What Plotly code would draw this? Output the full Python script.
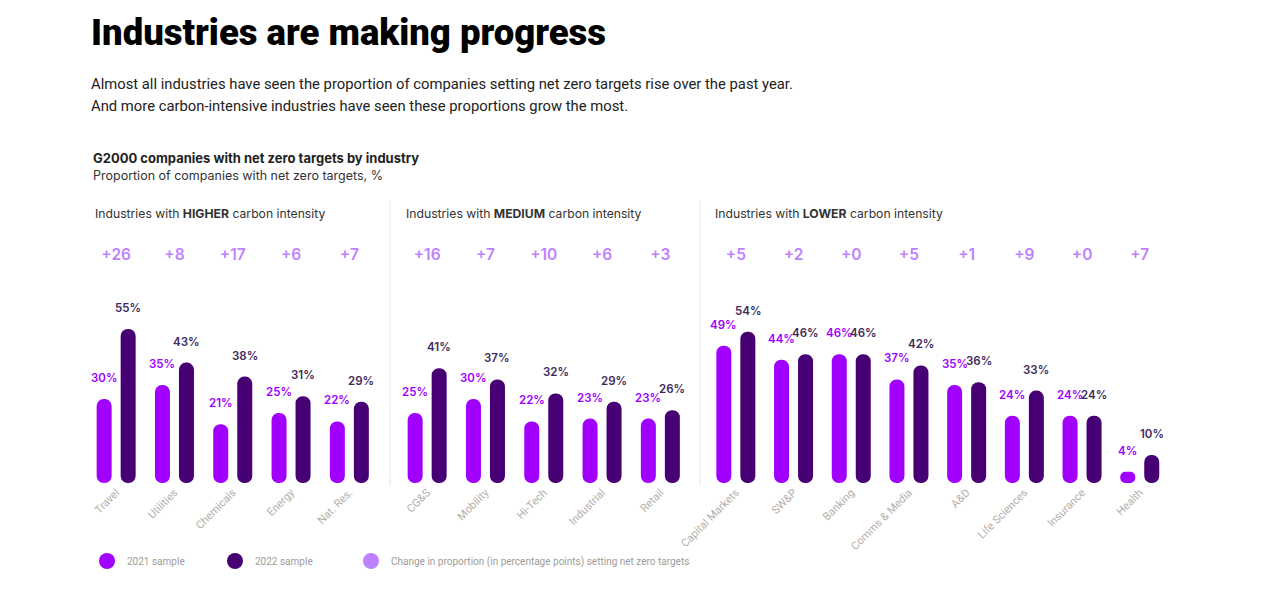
import numpy as np
import plotly.graph_objects as go

# === Data ===
higher_cats = ["Travel", "Utilities", "Chemicals", "Energy", "Nat. Res."]
higher_2021 = [30, 35, 21, 25, 22]
higher_2022 = [55, 43, 38, 31, 29]
higher_change = [26, 8, 17, 6, 7]

medium_cats = ["CG&S", "Mobility", "Hi-Tech", "Industrial", "Retail"]
medium_2021 = [25, 30, 22, 23, 23]
medium_2022 = [41, 37, 32, 29, 26]
medium_change = [16, 7, 10, 6, 3]

lower_cats = ["Capital Markets", "SW&P", "Banking", "Comms & Media", "A&D",
              "Life Sciences", "Insurance", "Health"]
lower_2021 = [49, 44, 46, 37, 35, 24, 24, 4]
lower_2022 = [54, 46, 46, 42, 36, 33, 24, 10]
lower_change = [5, 2, 0, 5, 1, 9, 0, 7]

panel_titles = [
    "Industries with <b>HIGHER</b> carbon intensity",
    "Industries with <b>MEDIUM</b> carbon intensity",
    "Industries with <b>LOWER</b> carbon intensity",
]
legend_names = ["2021 sample", "2022 sample",
                "Change in proportion (in percentage points) setting net zero targets"]

# === Styling ===
C21 = "#a100ff"
C22 = "#460073"
CCHG = "#be82ff"
LBL22 = "#3d2b5c"
TICK = "#b3aea8"

OFF = 8                          # page body margin
W, H = 1280 - 2 * OFF, 599 - 2 * OFF
TOP, BASE = 245 - OFF, 483 - OFF   # plot area top / zero line, figure pixels
YMAX = 85
BAR_PX = 15
SHIFT_PX = 12
CHANGE_ROW = 81


def py(p):
    # screen pixel row -> paper y
    return (BASE - (p - OFF)) / (BASE - TOP)


def px(p):
    # screen pixel column -> paper x
    return (p - OFF) / W


panels = [
    (higher_cats, higher_2021, higher_2022, higher_change, "x", (87, 378.5)),
    (medium_cats, medium_2021, medium_2022, medium_change, "x2", (398, 689.5)),
    (lower_cats, lower_2021, lower_2022, lower_change, "x3", (707, 1168.6)),
]

fig = go.Figure()
annotations = []

for k, (cats, v21, v22, chg, xa, dom) in enumerate(panels):
    idx = np.arange(len(cats))
    unit_px = (dom[1] - dom[0]) / len(cats)
    bar_w = BAR_PX / unit_px
    shift = SHIFT_PX / unit_px
    for vals, col, lcol, sgn in [(v21, C21, C21, -1), (v22, C22, LBL22, 1)]:
        xs = idx + sgn * shift
        fig.add_trace(go.Bar(
            x=xs, y=vals, base=0,
            width=bar_w, marker=dict(color=col, cornerradius=BAR_PX / 2, line_width=0),
            xaxis=xa, yaxis="y", showlegend=False, hoverinfo="skip"))
        for x, v in zip(xs, vals):
            annotations.append(dict(
                x=x, y=v, xref=xa, yref="y", text=f"{v}%", showarrow=False,
                yshift=21, font=dict(family="Inter, Roboto", size=11.5, color=lcol, weight=600)))
    fig.add_trace(go.Scatter(
        x=idx, y=[CHANGE_ROW] * len(cats), mode="text",
        text=[f"+{c}" for c in chg],
        textfont=dict(family="Inter, Roboto", size=15.5, color=CCHG, weight=600),
        xaxis=xa, yaxis="y", showlegend=False, hoverinfo="skip"))

    axname = "xaxis" if xa == "x" else "xaxis" + xa[1:]
    fig.update_layout({axname: dict(
        domain=[px(dom[0]), px(dom[1])], range=[-0.5, len(cats) - 0.5],
        tickvals=list(idx), ticktext=cats, tickangle=-45,
        tickfont=dict(family="Roboto", size=11, color=TICK),
        showgrid=False, zeroline=False, showline=False, ticks="",
        anchor="y", fixedrange=True, automargin=False)})

    annotations.append(dict(
        x=px(dom[0] + 6), y=py(213), xref="paper", yref="paper",
        text=panel_titles[k], showarrow=False, xanchor="left", yanchor="middle",
        font=dict(family="Inter, Roboto", size=12.2, color="#333333")))

# legend entries (round swatches)
for name, col, lg in zip(legend_names, [C21, C22, CCHG], ["legend", "legend2", "legend3"]):
    fig.add_trace(go.Scatter(
        x=[None], y=[None], mode="markers", marker=dict(color=col, size=16),
        name=name, xaxis="x", yaxis="y", legend=lg))

# header texts
head = [
    dict(x=px(89), y=py(32), text="Industries are making progress",
         font=dict(family="Roboto", size=36.5, color="#000000", weight=900)),
    dict(x=px(89), y=py(84),
         text="Almost all industries have seen the proportion of companies setting net zero targets rise over the past year.",
         font=dict(family="Roboto", size=14.8, color="#222222")),
    dict(x=px(89), y=py(106),
         text="And more carbon-intensive industries have seen these proportions grow the most.",
         font=dict(family="Roboto", size=14.8, color="#222222")),
    dict(x=px(91), y=py(158), text="<b>G2000 companies with net zero targets by industry</b>",
         font=dict(family="Inter, Roboto", size=13, color="#222222")),
    dict(x=px(91), y=py(175), text="Proportion of companies with net zero targets, %",
         font=dict(family="Inter, Roboto", size=12.5, color="#333333")),
]
for a in head:
    a.update(xref="paper", yref="paper", showarrow=False, xanchor="left", yanchor="middle")
annotations += head

# divider lines between panels
shapes = [dict(type="line", xref="paper", yref="paper", x0=px(xp), x1=px(xp),
               y0=py(486), y1=py(200), line=dict(color="#ebe8e2", width=1))
          for xp in (390, 700)]


def legend_at(xs):
    return dict(orientation="h", x=px(xs), y=py(561), xanchor="left", yanchor="middle",
                font=dict(family="Roboto", size=10, color="#a09c98"),
                itemsizing="trace", bgcolor="rgba(0,0,0,0)")


fig.update_layout(
    width=W, height=H,
    margin=dict(l=0, r=0, t=TOP, b=H - BASE, autoexpand=False),
    paper_bgcolor="white", plot_bgcolor="white",
    barmode="overlay",
    yaxis=dict(range=[0, YMAX], visible=False, fixedrange=True),
    annotations=annotations,
    shapes=shapes,
    legend=legend_at(87),
    legend2=legend_at(215),
    legend3=legend_at(351),
    font=dict(family="Roboto"),
)

fig.write_html("out.html")
